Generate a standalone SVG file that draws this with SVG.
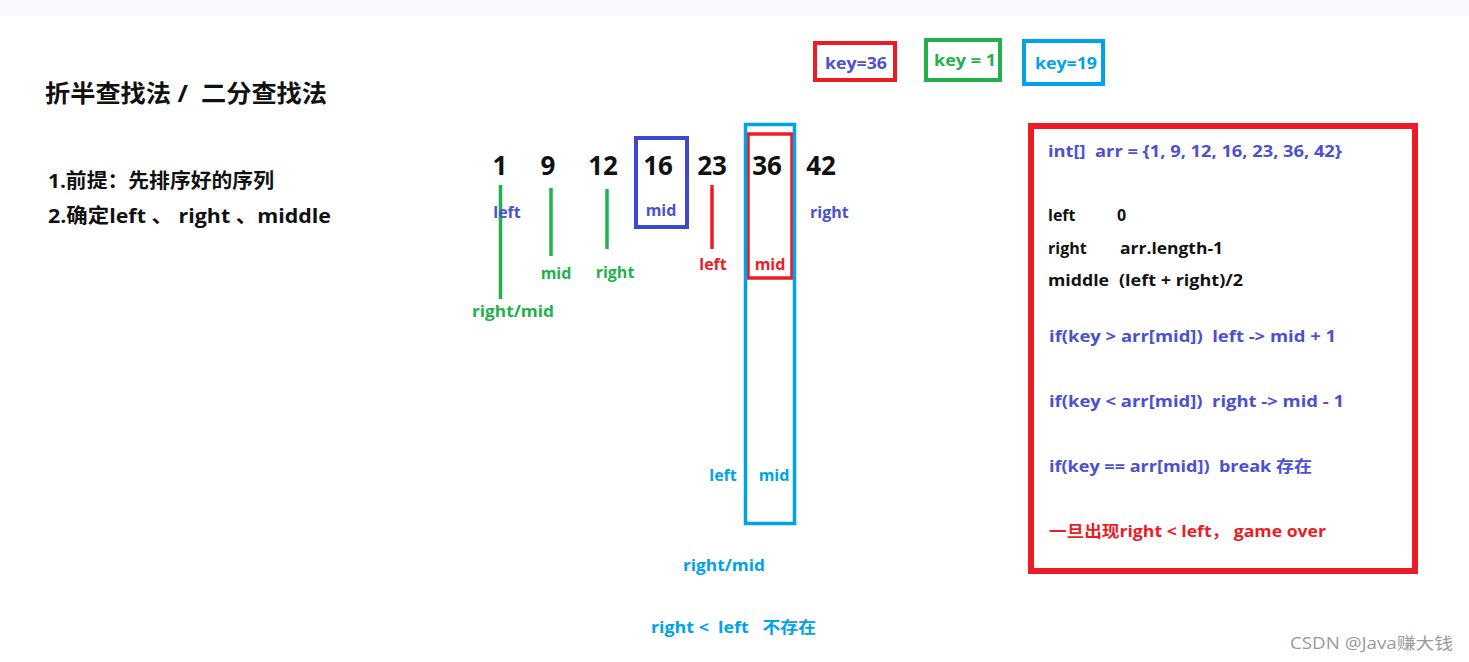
<svg xmlns="http://www.w3.org/2000/svg" width="1469" height="662" viewBox="0 0 1469 662">
<style>
text{font-family:"Open Sans","Noto Sans CJK SC",sans-serif;font-weight:bold;white-space:pre}
.k{fill:#111}
.b{fill:#4b50d0}
.g{fill:#22b14c}
.r{fill:#ed1c24}
.c{fill:#00a2e8}
.n{font-size:26px;fill:#111;text-anchor:middle}
.s{font-size:16px}
.m{text-anchor:middle}
.box{fill:none}
</style>
<rect x="0" y="0" width="1469" height="662" fill="#ffffff"/>
<rect x="0" y="0" width="1469" height="16" fill="#f8f9fc"/>

<g id="title">
<text x="45" y="102" font-size="24" class="k" textLength="282" lengthAdjust="spacingAndGlyphs">折半查找法 /  二分查找法</text>
<text x="48" y="188" font-size="20" class="k" textLength="226" lengthAdjust="spacingAndGlyphs">1.前提：先排序好的序列</text>
<text x="48" y="223" font-size="20" class="k" textLength="283" lengthAdjust="spacingAndGlyphs">2.确定left 、 right 、middle</text>
</g>

<g id="keys">
<g id="key36"><rect x="815" y="43" width="80" height="37" class="box" stroke="#ed1c24" stroke-width="4"/><text x="856" y="69" class="s b m" textLength="62" lengthAdjust="spacingAndGlyphs">key=36</text></g>
<g id="key1"><rect x="926" y="40" width="74" height="40" class="box" stroke="#22b14c" stroke-width="4"/><text x="965" y="66" class="s g m" textLength="62" lengthAdjust="spacingAndGlyphs">key = 1</text></g>
<g id="key19"><rect x="1024" y="41" width="79" height="43" class="box" stroke="#00a2e8" stroke-width="4"/><text x="1066" y="69" class="s c m" textLength="62" lengthAdjust="spacingAndGlyphs">key=19</text></g>
</g>

<g id="array">
<text x="500" y="175" class="n">1</text>
<text x="548" y="175" class="n">9</text>
<text x="603" y="175" class="n">12</text>
<text x="658" y="175" class="n">16</text>
<text x="712" y="175" class="n">23</text>
<text x="767" y="175" class="n">36</text>
<text x="821" y="175" class="n">42</text>
</g>

<g id="connectors">
<line x1="500.5" y1="185" x2="500.5" y2="299" stroke="#22b14c" stroke-width="3.5"/>
<line x1="551" y1="188" x2="551" y2="256" stroke="#22b14c" stroke-width="3.5"/>
<line x1="607" y1="189" x2="607" y2="249" stroke="#22b14c" stroke-width="3.5"/>
<line x1="712" y1="185" x2="712" y2="249" stroke="#ed1c24" stroke-width="3.5"/>
</g>

<g id="pass1">
<rect x="636" y="138" width="51" height="89" class="box" stroke="#3f48cc" stroke-width="4"/>
<text x="661" y="216" class="s b m">mid</text>
<text x="507" y="218" class="s b m">left</text>
<text x="810" y="218" class="s b">right</text>
</g>

<g id="pass-green">
<text x="556" y="279" class="s g m">mid</text>
<text x="615" y="278" class="s g m">right</text>
<text x="472" y="317" class="s g" textLength="82" lengthAdjust="spacingAndGlyphs">right/mid</text>
</g>

<g id="pass-red">
<rect x="748" y="134" width="44" height="144" class="box" stroke="#ed1c24" stroke-width="3.5"/>
<text x="713" y="270" class="s r m">left</text>
<text x="770" y="270" class="s r m">mid</text>
</g>

<g id="pass-cyan">
<rect x="745.5" y="124.5" width="49" height="399" class="box" stroke="#00a2e8" stroke-width="3.5"/>
<text x="723" y="481" class="s c m">left</text>
<text x="774" y="481" class="s c m">mid</text>
<text x="683" y="571" class="s c" textLength="82" lengthAdjust="spacingAndGlyphs">right/mid</text>
<text x="651" y="633" class="s c" textLength="165" lengthAdjust="spacingAndGlyphs">right &lt;  left   不存在</text>
</g>

<g id="rules">
<rect x="1031" y="126" width="384" height="445" class="box" stroke="#ed1c24" stroke-width="6"/>
<text x="1048" y="157" class="s b" textLength="294" lengthAdjust="spacingAndGlyphs">int[]  arr = {1, 9, 12, 16, 23, 36, 42}</text>
<text x="1048" y="221" class="s k">left</text><text x="1117" y="221" class="s k">0</text>
<text x="1048" y="254" class="s k">right</text><text x="1120" y="254" class="s k" textLength="103" lengthAdjust="spacingAndGlyphs">arr.length-1</text>
<text x="1048" y="286" class="s k" textLength="61" lengthAdjust="spacingAndGlyphs">middle</text><text x="1119" y="286" class="s k" textLength="124" lengthAdjust="spacingAndGlyphs">(left + right)/2</text>
<text x="1049" y="342" class="s b" textLength="287" lengthAdjust="spacingAndGlyphs">if(key &gt; arr[mid])  left -&gt; mid + 1</text>
<text x="1049" y="407" class="s b" textLength="295" lengthAdjust="spacingAndGlyphs">if(key &lt; arr[mid])  right -&gt; mid - 1</text>
<text x="1049" y="472" class="s b" textLength="263" lengthAdjust="spacingAndGlyphs">if(key == arr[mid])  break 存在</text>
<text x="1049" y="537" class="s r" textLength="277" lengthAdjust="spacingAndGlyphs">一旦出现right &lt; left， game over</text>
</g>

<text x="1290" y="649" font-size="16" style="font-weight:normal" fill="#999" textLength="163" lengthAdjust="spacingAndGlyphs">CSDN @Java赚大钱</text>
</svg>
